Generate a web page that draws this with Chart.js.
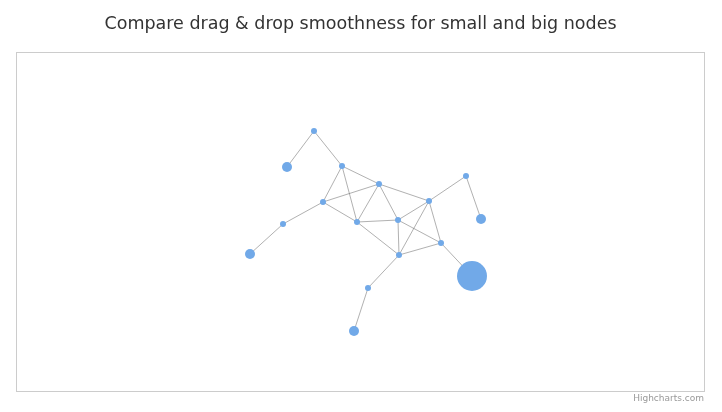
<!DOCTYPE html>
<html lang="en">
<head>
  <meta charset="UTF-8">
  <title>Compare drag &amp; drop smoothness for small and big nodes</title>
  <script src="https://cdn.jsdelivr.net/npm/chart.js"></script>
  <style>
    html, body { margin: 0; padding: 0; background: #ffffff; }
    #wrap { width: 722px; height: 412px; }
  </style>
</head>
<body>
  <div id="wrap"><canvas id="graph" width="722" height="412"></canvas></div>
  <script>
    // node positions as laid out in the plot box (px from its top-left corner)
    const nodeNames = ['A', 'B', 'C', 'D', 'E', 'F', 'G', 'H', 'I', 'J', 'K', 'L', 'M', 'N', 'O', 'P', 'Q'];
    const nodeX = [298, 271, 326, 363, 307, 267, 234, 341, 382, 413, 450, 465, 425, 383, 456, 352, 338];
    const nodeY = [79, 115, 114, 132, 150, 172, 202, 170, 168, 149, 124, 167, 191, 203, 224, 236, 279];
    const nodeSize = [3, 5, 3, 3, 3, 3, 5, 3, 3, 3, 3, 5, 3, 3, 15, 3, 5];
    const links = [
      ['A', 'B'], ['A', 'C'], ['C', 'D'], ['C', 'E'], ['C', 'H'],
      ['E', 'D'], ['E', 'H'], ['E', 'F'], ['F', 'G'], ['D', 'H'],
      ['D', 'I'], ['D', 'J'], ['H', 'I'], ['H', 'N'], ['I', 'N'],
      ['I', 'J'], ['I', 'M'], ['J', 'N'], ['J', 'K'], ['K', 'L'],
      ['J', 'M'], ['M', 'N'], ['M', 'O'], ['N', 'P'], ['P', 'Q']
    ];

    const nodes = nodeNames.map((n, i) => ({ x: nodeX[i], y: nodeY[i], name: n }));
    const linkPoints = [];
    links.forEach(([a, b]) => {
      const i = nodeNames.indexOf(a), j = nodeNames.indexOf(b);
      linkPoints.push({ x: nodeX[i], y: nodeY[i] }, { x: nodeX[j], y: nodeY[j] }, { x: null, y: null });
    });

    const frame = {
      id: 'frame',
      beforeDraw(chart) {
        const { ctx, chartArea: a } = chart;
        ctx.save();
        ctx.strokeStyle = '#cccccc';
        ctx.lineWidth = 1;
        ctx.strokeRect(Math.round(a.left) + 0.5, Math.round(a.top) + 0.5,
          Math.round(a.right - a.left) - 1, Math.round(a.bottom - a.top) - 1);
        ctx.restore();
      },
      afterDraw(chart) {
        const { ctx, chartArea: a } = chart;
        ctx.save();
        ctx.font = '9px "DejaVu Sans", sans-serif';
        ctx.fillStyle = '#999999';
        ctx.textAlign = 'right';
        ctx.textBaseline = 'alphabetic';
        ctx.fillText('Highcharts.com', a.right - 1, a.bottom + 9);
        ctx.restore();
      }
    };

    new Chart(document.getElementById('graph'), {
      type: 'scatter',
      data: {
        datasets: [{
          label: 'Nodes',
          data: nodes,
          order: 0,
          backgroundColor: '#71a9e8',
          borderWidth: 0,
          pointRadius: nodeSize,
          pointHoverRadius: nodeSize
        }, {
          label: 'Links',
          type: 'line',
          data: linkPoints,
          order: 1,
          showLine: true,
          spanGaps: false,
          borderColor: 'rgba(100, 100, 100, 0.5)',
          borderWidth: 1,
          pointRadius: 0,
          pointHoverRadius: 0
        }]
      },
      options: {
        responsive: false,
        animation: false,
        layout: { padding: { left: 16, right: 17, top: 0, bottom: 20 } },
        scales: {
          x: { type: 'linear', display: false, min: 0, max: 689 },
          y: { type: 'linear', display: false, min: 0, max: 340, reverse: true }
        },
        plugins: {
          legend: { display: false },
          tooltip: { enabled: false },
          title: {
            display: true,
            text: 'Compare drag & drop smoothness for small and big nodes',
            color: '#333333',
            font: { family: '"DejaVu Sans", sans-serif', size: 17.5, weight: 'normal' },
            padding: { top: 14, bottom: 17 }
          }
        }
      },
      plugins: [frame]
    });
  </script>
</body>
</html>
